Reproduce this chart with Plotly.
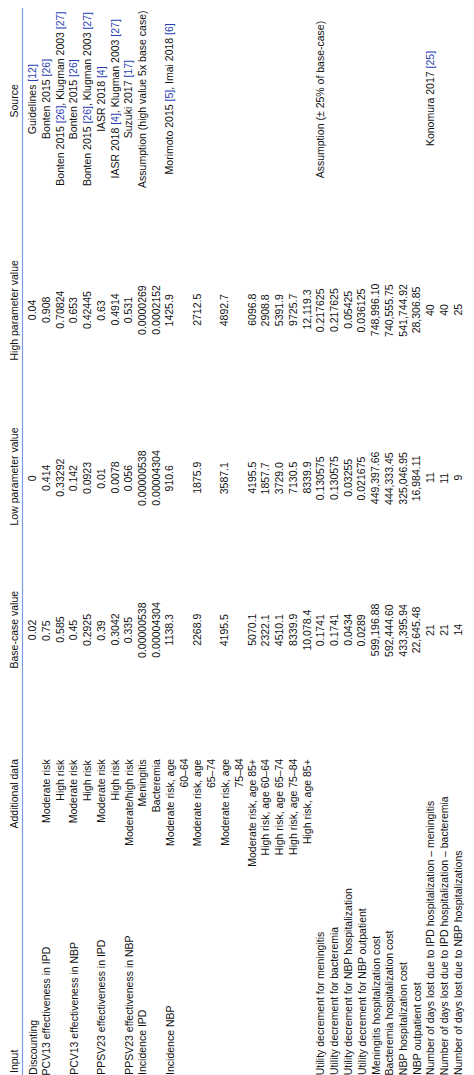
import plotly.graph_objects as go
import re

W, H = 474, 1075
X0, PITCH = 24.2, 13.72   # row slot spacing (rotated table)
HEADER_X = 5.5

headers = ["Input", "Additional data", "Base-case value", "Low parameter value",
           "High parameter value", "Source"]

input_slots = [0, 1, 3, 5, 7, 8, 10] + list(range(21, 33))
input_labels = ["Discounting", "PCV13 effectiveness in IPD", "PCV13 effectiveness in NBP",
                "PPSV23 effectiveness in IPD", "PPSV23 effectiveness in NBP", "Incidence IPD",
                "Incidence NBP", "Utility decrement for meningitis",
                "Utility decrement for bacteremia", "Utility decrement for NBP hospitalization",
                "Utility decrement for NBP outpatient", "Meningitis hospitalization cost",
                "Bacteremia hospitalization cost", "NBP hospitalization cost", "NBP outpatient cost",
                "Number of days lost due to IPD hospitalization \u2013 meningitis",
                "Number of days lost due to IPD hospitalization \u2013 bacteremia",
                "Number of days lost due to NBP hospitalizations",
                "Number of days lost due to NBP outpatient visits"]

add_slots = list(range(1, 21))
add_labels = ["Moderate risk", "High risk", "Moderate risk", "High risk", "Moderate risk",
              "High risk", "Moderate/high risk", "Meningitis", "Bacteremia",
              "Moderate risk, age", "60\u201364", "Moderate risk, age", "65\u201374",
              "Moderate risk, age", "75\u201384", "Moderate risk, age 85+",
              "High risk, age 60\u201364", "High risk, age 65\u201374", "High risk, age 75\u201384",
              "High risk, age 85+"]

value_slots = list(range(0, 11)) + [12, 14] + list(range(16, 33))
base_values = ["0.02", "0.75", "0.585", "0.45", "0.2925", "0.39", "0.3042", "0.335",
               "0.00000538", "0.00004304", "1138.3", "2268.9", "4195.5", "5070.1", "2322.1",
               "4510.1", "8339.9", "10,078.4", "0.1741", "0.1741", "0.0434", "0.0289",
               "599,196.88", "592,444.60", "433,395.94", "22,645.48", "21", "21", "14", "7"]
low_values = ["0", "0.414", "0.33292", "0.142", "0.0923", "0.01", "0.0078", "0.056",
              "0.00000538", "0.00004304", "910.6", "1875.9", "3587.1", "4195.5", "1857.7",
              "3729.0", "7130.5", "8339.9", "0.130575", "0.130575", "0.03255", "0.021675",
              "449,397.66", "444,333.45", "325,046.95", "16,984.11", "11", "11", "9", "4"]
high_values = ["0.04", "0.908", "0.70824", "0.653", "0.42445", "0.63", "0.4914", "0.531",
               "0.0000269", "0.0002152", "1425.9", "2712.5", "4892.7", "6096.8", "2908.8",
               "5391.9", "9725.7", "12,119.3", "0.217625", "0.217625", "0.05425", "0.036125",
               "748,996.10", "740,555.75", "541,744.92", "28,306.85", "40", "40", "25", "9"]

source_slots = [0, 1, 2, 3, 4, 5, 6, 7, 8, 10, 21, 29]
source_text = ["Guidelines [12]", "Bonten 2015 [26]", "Bonten 2015 [26], Klugman 2003 [27]",
               "Bonten 2015 [26]", "Bonten 2015 [26], Klugman 2003 [27]", "IASR 2018 [4]",
               "IASR 2018 [4], Klugman 2003 [27]", "Suzuki 2017 [17]",
               "Assumption (high value 5x base case)", "Morimoto 2015 [5], Imai 2018 [6]",
               "Assumption (\u00b1 25% of base-case)", "Konomura 2017 [25]"]


def blue_refs(s):
    return re.sub(r"\[(\d+)\]", r"<span style='color:#2a3fb5'>[\1]</span>", s)


FONT = dict(family="Liberation Sans, Arial, sans-serif", size=10.5, color="#111")
fig = go.Figure()
ann = []


def add(x, y, text, yanchor):
    ann.append(dict(x=x / W, y=1 - y / H, xref="paper", yref="paper", text=text,
                    showarrow=False, textangle=-90, xanchor="center", yanchor=yanchor,
                    font=FONT, borderpad=0))


def slot_x(s):
    return X0 + s * PITCH


# headers
add(HEADER_X, 1066, headers[0], "bottom")
add(HEADER_X, 750, headers[1], "top")
add(HEADER_X, 622, headers[2], "middle")
add(HEADER_X, 469, headers[3], "middle")
add(HEADER_X, 302, headers[4], "middle")
add(HEADER_X, 93, headers[5], "middle")

for s, t in zip(input_slots, input_labels):
    add(slot_x(s), 1068, t, "bottom")
for s, t in zip(add_slots, add_labels):
    add(slot_x(s), 750, t, "top")
for s, b, l, h in zip(value_slots, base_values, low_values, high_values):
    add(slot_x(s), 622, b, "middle")
    add(slot_x(s), 470, l, "middle")
    add(slot_x(s), 302, h, "middle")
for s, t in zip(source_slots, source_text):
    add(slot_x(s), 91, blue_refs(t), "middle")

fig.add_shape(type="line", x0=14.5 / W, x1=14.5 / W, y0=0, y1=1, xref="paper", yref="paper",
              line=dict(color="#7b9be0", width=1.2))

fig.update_layout(width=W, height=H, margin=dict(l=0, r=0, t=0, b=0),
                  paper_bgcolor="white", plot_bgcolor="white", annotations=ann,
                  showlegend=False)
fig.update_xaxes(visible=False, fixedrange=True)
fig.update_yaxes(visible=False, fixedrange=True)
fig.write_html("out.html", config={"displayModeBar": False})
